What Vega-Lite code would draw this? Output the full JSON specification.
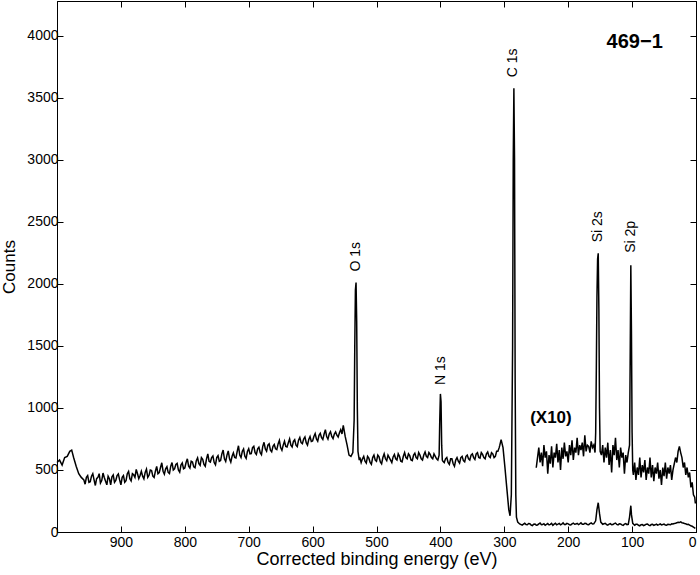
{
"$schema": "https://vega.github.io/schema/vega-lite/v6.json",
"width": 639, "height": 531,
"autosize": {"type": "none"},
"padding": {"left": 57, "top": 1, "right": 4, "bottom": 43},
"background": "white",
"config": {
  "view": {"stroke": "black", "strokeWidth": 1, "fill": null},
  "axis": {"labelFont": "Liberation Sans", "titleFont": "Liberation Sans", "labelFontSize": 14, "titleFontSize": 18, "titleFontWeight": "normal", "labelColor": "black", "titleColor": "black", "domainColor": "black", "tickColor": "black", "grid": false, "zindex": 2, "tickSize": -6, "tickWidth": 1}
},
"datasets": {
"main": [
{"e":1000,"c":560},{"e":996,"c":580},{"e":992,"c":540},{"e":988,"c":600},{"e":984,"c":610},{"e":980,"c":650},{"e":977,"c":660},{"e":974,"c":600},{"e":970,"c":530},{"e":966,"c":470},{"e":962,"c":440},{"e":958,"c":420},
{"e":956,"c":385},{"e":954,"c":440},{"e":952,"c":455},{"e":950,"c":400},{"e":948,"c":405},{"e":946,"c":450},{"e":944,"c":470},{"e":942,"c":420},{"e":940,"c":375},{"e":938,"c":430},{"e":936,"c":440},{"e":934,"c":470},{"e":932,"c":395},{"e":930,"c":415},{"e":928,"c":475},{"e":926,"c":440},{"e":924,"c":410},{"e":922,"c":380},{"e":920,"c":450},{"e":918,"c":430},{"e":916,"c":380},{"e":914,"c":445},{"e":912,"c":460},{"e":910,"c":400},{"e":908,"c":415},{"e":906,"c":455},{"e":904,"c":468},{"e":902,"c":420},
{"e":900,"c":380},{"e":898,"c":440},{"e":896,"c":454},{"e":894,"c":400},{"e":892,"c":413},{"e":890,"c":470},{"e":888,"c":488},{"e":886,"c":430},{"e":884,"c":412},{"e":882,"c":470},{"e":880,"c":461},{"e":878,"c":440},{"e":876,"c":505},{"e":874,"c":470},{"e":872,"c":430},{"e":870,"c":455},{"e":868,"c":489},{"e":866,"c":450},{"e":864,"c":428},{"e":862,"c":480},{"e":860,"c":507},{"e":858,"c":440},{"e":856,"c":457},{"e":854,"c":500},{"e":852,"c":496},{"e":850,"c":450},{"e":848,"c":440},{"e":846,"c":490},{"e":844,"c":529},{"e":842,"c":470},{"e":840,"c":479},{"e":838,"c":520},{"e":836,"c":558},{"e":834,"c":490},{"e":832,"c":467},{"e":830,"c":510},{"e":828,"c":526},{"e":826,"c":480},{"e":824,"c":471},{"e":822,"c":530},{"e":820,"c":560},{"e":818,"c":500},{"e":816,"c":509},{"e":814,"c":545},{"e":812,"c":553},{"e":810,"c":500},{"e":808,"c":483},{"e":806,"c":540},{"e":804,"c":557},{"e":802,"c":510},
{"e":800,"c":516},{"e":798,"c":560},{"e":796,"c":590},{"e":794,"c":530},{"e":792,"c":515},{"e":790,"c":570},{"e":788,"c":564},{"e":786,"c":525},{"e":784,"c":518},{"e":782,"c":575},{"e":780,"c":597},{"e":778,"c":550},{"e":776,"c":537},{"e":774,"c":600},{"e":772,"c":586},{"e":770,"c":545},{"e":768,"c":530},{"e":766,"c":590},{"e":764,"c":629},{"e":762,"c":570},{"e":760,"c":564},{"e":758,"c":600},{"e":756,"c":613},{"e":754,"c":560},{"e":752,"c":542},{"e":750,"c":600},{"e":748,"c":616},{"e":746,"c":570},{"e":744,"c":576},{"e":742,"c":630},{"e":740,"c":660},{"e":738,"c":590},{"e":736,"c":569},{"e":734,"c":620},{"e":732,"c":653},{"e":730,"c":590},{"e":728,"c":563},{"e":726,"c":610},{"e":724,"c":637},{"e":722,"c":600},{"e":720,"c":596},{"e":718,"c":650},{"e":716,"c":695},{"e":714,"c":620},{"e":712,"c":600},{"e":710,"c":650},{"e":708,"c":669},{"e":706,"c":610},{"e":704,"c":593},{"e":702,"c":650},
{"e":700,"c":672},{"e":698,"c":630},{"e":696,"c":632},{"e":694,"c":680},{"e":692,"c":691},{"e":690,"c":640},{"e":688,"c":625},{"e":686,"c":670},{"e":684,"c":684},{"e":682,"c":640},{"e":680,"c":624},{"e":678,"c":690},{"e":676,"c":723},{"e":674,"c":670},{"e":672,"c":652},{"e":670,"c":700},{"e":668,"c":711},{"e":666,"c":660},{"e":664,"c":646},{"e":662,"c":690},{"e":660,"c":705},{"e":658,"c":670},{"e":656,"c":664},{"e":654,"c":710},{"e":652,"c":738},{"e":650,"c":680},{"e":648,"c":658},{"e":646,"c":700},{"e":644,"c":732},{"e":642,"c":690},{"e":640,"c":686},{"e":638,"c":720},{"e":636,"c":750},{"e":634,"c":700},{"e":632,"c":685},{"e":630,"c":730},{"e":628,"c":744},{"e":626,"c":700},{"e":624,"c":688},{"e":622,"c":740},{"e":620,"c":762},{"e":618,"c":720},{"e":616,"c":712},{"e":614,"c":750},{"e":612,"c":766},{"e":610,"c":720},{"e":608,"c":700},{"e":606,"c":745},{"e":604,"c":769},{"e":602,"c":730},
{"e":600,"c":734},{"e":598,"c":770},{"e":596,"c":793},{"e":594,"c":750},{"e":592,"c":732},{"e":590,"c":780},{"e":588,"c":796},{"e":586,"c":760},{"e":584,"c":746},{"e":582,"c":790},{"e":580,"c":825},{"e":578,"c":770},{"e":576,"c":749},{"e":574,"c":790},{"e":572,"c":808},{"e":570,"c":770},{"e":568,"c":753},{"e":566,"c":790},{"e":564,"c":807},{"e":562,"c":780},{"e":560,"c":765},{"e":558,"c":800},{"e":556,"c":825},{"e":554,"c":790},{"e":552,"c":860},{"e":550,"c":800},{"e":549,"c":770},{"e":546,"c":700},{"e":543,"c":620},{"e":540,"c":610},{"e":537,"c":640},{"e":535,"c":900},{"e":534,"c":1500},{"e":533,"c":1950},{"e":532,"c":2010},{"e":531,"c":1700},{"e":530,"c":1000},{"e":529,"c":650},{"e":527,"c":580},
{"e":526,"c":600},{"e":524,"c":560},{"e":522,"c":590},{"e":520,"c":610},{"e":518,"c":570},{"e":516,"c":555},{"e":514,"c":610},{"e":512,"c":595},{"e":510,"c":560},{"e":508,"c":545},{"e":506,"c":600},{"e":504,"c":620},{"e":502,"c":580},{"e":500,"c":570},{"e":498,"c":620},{"e":496,"c":605},{"e":494,"c":565},{"e":492,"c":550},{"e":490,"c":600},{"e":488,"c":630},{"e":486,"c":590},{"e":484,"c":575},{"e":482,"c":620},{"e":480,"c":600},{"e":478,"c":580},{"e":476,"c":560},{"e":474,"c":605},{"e":472,"c":625},{"e":470,"c":590},{"e":468,"c":580},{"e":466,"c":630},{"e":464,"c":610},{"e":462,"c":570},{"e":460,"c":565},{"e":458,"c":610},{"e":456,"c":640},{"e":454,"c":600},{"e":452,"c":590},{"e":450,"c":630},{"e":448,"c":615},{"e":446,"c":580},{"e":444,"c":575},{"e":442,"c":620},{"e":440,"c":635},{"e":438,"c":600},{"e":436,"c":590},{"e":434,"c":640},{"e":432,"c":620},{"e":430,"c":590},{"e":428,"c":580},{"e":426,"c":620},{"e":424,"c":645},{"e":422,"c":610},{"e":420,"c":600},{"e":418,"c":640},{"e":416,"c":625},{"e":414,"c":600},{"e":412,"c":590},{"e":410,"c":630},{"e":408,"c":610},{"e":406,"c":590},{"e":404,"c":580},{"e":402,"c":620},{"e":401,"c":900},{"e":400,"c":1113},{"e":399,"c":1050},{"e":398,"c":700},{"e":397,"c":580},
{"e":396,"c":570},{"e":394,"c":560},{"e":392,"c":590},{"e":390,"c":600},{"e":388,"c":560},{"e":386,"c":545},{"e":384,"c":590},{"e":382,"c":590},{"e":380,"c":550},{"e":378,"c":530},{"e":376,"c":580},{"e":374,"c":600},{"e":372,"c":570},{"e":370,"c":555},{"e":368,"c":600},{"e":366,"c":610},{"e":364,"c":575},{"e":362,"c":565},{"e":360,"c":610},{"e":358,"c":620},{"e":356,"c":590},{"e":354,"c":580},{"e":352,"c":620},{"e":350,"c":630},{"e":348,"c":600},{"e":346,"c":585},{"e":344,"c":630},{"e":342,"c":640},{"e":340,"c":600},{"e":338,"c":595},{"e":336,"c":640},{"e":334,"c":625},{"e":332,"c":600},{"e":330,"c":590},{"e":328,"c":630},{"e":326,"c":645},{"e":324,"c":610},{"e":322,"c":600},{"e":320,"c":640},{"e":318,"c":630},{"e":316,"c":600},{"e":314,"c":610},{"e":312,"c":650},{"e":310,"c":650},{"e":308,"c":680},{"e":307,"c":700},{"e":305,"c":745},{"e":302,"c":680},{"e":299,"c":520},{"e":296,"c":350},{"e":293,"c":180},{"e":291,"c":131},{"e":289,"c":300},{"e":287,"c":1500},{"e":286,"c":3000},{"e":285,"c":3577},{"e":284,"c":3000},{"e":283,"c":1200},{"e":282,"c":300},{"e":281,"c":120},{"e":279,"c":80},{"e":276,"c":65},
{"e":272,"c":55},{"e":270,"c":63},{"e":268,"c":70},{"e":266,"c":60},{"e":264,"c":58},{"e":262,"c":68},{"e":260,"c":66},{"e":258,"c":56},{"e":256,"c":52},{"e":254,"c":62},{"e":252,"c":64},{"e":250,"c":55},{"e":248,"c":57},{"e":246,"c":66},{"e":244,"c":72},{"e":242,"c":59},{"e":240,"c":60},{"e":238,"c":67},{"e":236,"c":55},{"e":234,"c":61},{"e":232,"c":68},{"e":230,"c":57},{"e":228,"c":62},{"e":226,"c":70},{"e":224,"c":54},{"e":222,"c":63},{"e":220,"c":70},{"e":218,"c":58},{"e":216,"c":63},{"e":214,"c":69},{"e":212,"c":58},{"e":210,"c":64},{"e":208,"c":74},{"e":206,"c":60},{"e":204,"c":61},{"e":202,"c":70},{"e":200,"c":66},{"e":198,"c":59},{"e":196,"c":57},{"e":194,"c":66},{"e":192,"c":72},{"e":190,"c":62},{"e":188,"c":64},{"e":186,"c":70},{"e":184,"c":60},{"e":182,"c":66},{"e":180,"c":75},{"e":178,"c":63},{"e":176,"c":62},{"e":174,"c":70},{"e":172,"c":68},{"e":170,"c":60},{"e":168,"c":59},{"e":166,"c":68},{"e":164,"c":73},{"e":162,"c":64},{"e":160,"c":66},{"e":157,"c":90},{"e":155,"c":180},{"e":153,"c":236},{"e":151,"c":150},{"e":149,"c":80},{"e":146,"c":62},{"e":144,"c":66},{"e":142,"c":70},{"e":140,"c":60},{"e":138,"c":55},{"e":136,"c":64},{"e":134,"c":67},{"e":132,"c":58},{"e":130,"c":60},{"e":128,"c":68},{"e":126,"c":72},{"e":124,"c":61},{"e":122,"c":58},{"e":120,"c":67},{"e":118,"c":65},{"e":116,"c":57},{"e":114,"c":54},{"e":112,"c":63},{"e":110,"c":68},{"e":108,"c":59},{"e":106,"c":62},{"e":104,"c":120},{"e":102,"c":212},{"e":101,"c":140},{"e":99,"c":70},{"e":96,"c":55},{"e":94,"c":62},{"e":92,"c":63},{"e":90,"c":54},{"e":88,"c":50},{"e":86,"c":59},{"e":84,"c":60},{"e":82,"c":52},{"e":80,"c":56},{"e":78,"c":63},{"e":76,"c":64},{"e":74,"c":55},{"e":72,"c":52},{"e":70,"c":60},{"e":68,"c":62},{"e":66,"c":54},{"e":64,"c":58},{"e":62,"c":63},{"e":60,"c":55},{"e":58,"c":60},{"e":56,"c":66},{"e":54,"c":57},{"e":52,"c":60},{"e":50,"c":64},{"e":48,"c":57},{"e":46,"c":55},{"e":44,"c":62},{"e":42,"c":60},{"e":40,"c":58},{"e":38,"c":66},{"e":36,"c":64},{"e":34,"c":68},{"e":32,"c":70},{"e":30,"c":74},{"e":28,"c":78},{"e":26,"c":76},{"e":24,"c":82},{"e":22,"c":75},{"e":20,"c":72},{"e":18,"c":68},{"e":16,"c":66},{"e":14,"c":60},{"e":12,"c":62},{"e":10,"c":55},{"e":8,"c":50},{"e":6,"c":46},{"e":4,"c":40},{"e":1,"c":30}
],
"x10": [
{"e":250,"c":518},{"e":248,"c":600},{"e":246,"c":680},{"e":244,"c":560},{"e":242,"c":640},{"e":240,"c":530},{"e":238,"c":700},{"e":236,"c":600},{"e":234,"c":650},{"e":232,"c":470},{"e":230,"c":620},{"e":228,"c":550},{"e":226,"c":690},{"e":224,"c":520},{"e":222,"c":640},{"e":220,"c":600},{"e":218,"c":710},{"e":216,"c":560},{"e":214,"c":660},{"e":212,"c":500},{"e":210,"c":680},{"e":208,"c":590},{"e":206,"c":720},{"e":204,"c":610},{"e":202,"c":650},{"e":200,"c":560},{"e":198,"c":700},{"e":196,"c":620},{"e":194,"c":740},{"e":192,"c":580},{"e":190,"c":680},{"e":188,"c":640},{"e":186,"c":760},{"e":184,"c":620},{"e":182,"c":700},{"e":180,"c":660},{"e":178,"c":720},{"e":176,"c":610},{"e":174,"c":780},{"e":172,"c":650},{"e":170,"c":700},{"e":168,"c":690},{"e":166,"c":640},{"e":164,"c":730},{"e":162,"c":680},{"e":160,"c":700},{"e":158,"c":640},{"e":157,"c":800},{"e":156,"c":1300},{"e":155,"c":1900},{"e":154,"c":2200},{"e":153,"c":2247},{"e":152,"c":1800},{"e":151,"c":1000},{"e":150,"c":650},
{"e":148,"c":620},{"e":146,"c":700},{"e":144,"c":560},{"e":142,"c":680},{"e":140,"c":600},{"e":138,"c":720},{"e":136,"c":540},{"e":134,"c":660},{"e":132,"c":480},{"e":130,"c":700},{"e":128,"c":620},{"e":126,"c":760},{"e":124,"c":580},{"e":122,"c":660},{"e":120,"c":520},{"e":118,"c":680},{"e":116,"c":600},{"e":114,"c":640},{"e":112,"c":470},{"e":110,"c":620},{"e":108,"c":560},{"e":106,"c":640},{"e":104,"c":700},{"e":103,"c":1400},{"e":102,"c":2150},{"e":101,"c":1600},{"e":100,"c":800},{"e":99,"c":500},{"e":98,"c":460},
{"e":96,"c":560},{"e":94,"c":420},{"e":92,"c":520},{"e":90,"c":460},{"e":88,"c":600},{"e":86,"c":440},{"e":84,"c":540},{"e":82,"c":480},{"e":80,"c":580},{"e":78,"c":420},{"e":76,"c":520},{"e":74,"c":470},{"e":72,"c":600},{"e":70,"c":440},{"e":68,"c":540},{"e":66,"c":410},{"e":64,"c":520},{"e":62,"c":470},{"e":60,"c":560},{"e":58,"c":430},{"e":56,"c":500},{"e":54,"c":380},{"e":52,"c":520},{"e":50,"c":450},{"e":48,"c":560},{"e":46,"c":430},{"e":44,"c":520},{"e":42,"c":470},{"e":40,"c":540},{"e":38,"c":420},{"e":36,"c":500},{"e":34,"c":550},{"e":32,"c":600},{"e":30,"c":560},{"e":28,"c":650},{"e":26,"c":690},{"e":24,"c":640},{"e":22,"c":600},{"e":20,"c":520},{"e":18,"c":560},{"e":16,"c":460},{"e":14,"c":520},{"e":12,"c":440},{"e":10,"c":480},{"e":8,"c":360},{"e":6,"c":400},{"e":4,"c":300},{"e":2,"c":280},{"e":1,"c":230}
],
"peaks": [
{"e":532,"c":2100,"label":"O 1s"},
{"e":399,"c":1185,"label":"N 1s"},
{"e":287,"c":3665,"label":"C 1s"},
{"e":153,"c":2335,"label":"Si 2s"},
{"e":102,"c":2250,"label":"Si 2p"}
],
"notes": [
{"e":227,"c":920,"label":"(X10)","size":17},
{"e":96,"c":3950,"label":"469−1","size":20}
]
},
"layer": [
{
 "data": {"name": "main"},
 "mark": {"type": "line", "color": "black", "strokeWidth": 1.5},
 "encoding": {
  "x": {"field": "e", "type": "quantitative", "scale": {"domain": [0, 1000], "reverse": true, "nice": false},
        "axis": {"orient": "bottom", "values": [0,100,200,300,400,500,600,700,800,900], "title": "Corrected binding energy (eV)", "labelPadding": 9, "titlePadding": 1}},
  "y": {"field": "c", "type": "quantitative", "scale": {"domain": [0, 4280], "nice": false},
        "axis": {"orient": "left", "values": [0,500,1000,1500,2000,2500,3000,3500,4000], "format": "d", "title": "Counts", "titleFontSize": 17, "labelPadding": 5, "titlePadding": 8}}
 }
},
{
 "data": {"name": "x10"},
 "mark": {"type": "line", "color": "black", "strokeWidth": 1.5},
 "encoding": {
  "x": {"field": "e", "type": "quantitative", "scale": {"domain": [0, 1000], "reverse": true, "nice": false},
        "axis": {"orient": "top", "values": [0,100,200,300,400,500,600,700,800,900], "labels": false, "title": null}},
  "y": {"field": "c", "type": "quantitative", "scale": {"domain": [0, 4280], "nice": false},
        "axis": {"orient": "right", "values": [0,500,1000,1500,2000,2500,3000,3500,4000], "labels": false, "title": null}}
 }
},
{
 "data": {"name": "peaks"},
 "mark": {"type": "text", "angle": 270, "align": "left", "baseline": "middle", "font": "Liberation Sans", "fontSize": 14, "color": "black"},
 "encoding": {
  "x": {"field": "e", "type": "quantitative", "scale": {"domain": [0, 1000], "reverse": true, "nice": false}, "axis": null},
  "y": {"field": "c", "type": "quantitative", "scale": {"domain": [0, 4280], "nice": false}, "axis": null},
  "text": {"field": "label"}
 }
},
{
 "data": {"name": "notes"},
 "mark": {"type": "text", "align": "center", "baseline": "middle", "font": "Liberation Sans", "fontWeight": "bold", "color": "black"},
 "encoding": {
  "x": {"field": "e", "type": "quantitative", "scale": {"domain": [0, 1000], "reverse": true, "nice": false}, "axis": null},
  "y": {"field": "c", "type": "quantitative", "scale": {"domain": [0, 4280], "nice": false}, "axis": null},
  "text": {"field": "label"},
  "size": {"field": "size", "type": "quantitative", "scale": null}
 }
}
],
"resolve": {"scale": {"x": "independent", "y": "independent"}, "axis": {"x": "independent", "y": "independent"}}
}
